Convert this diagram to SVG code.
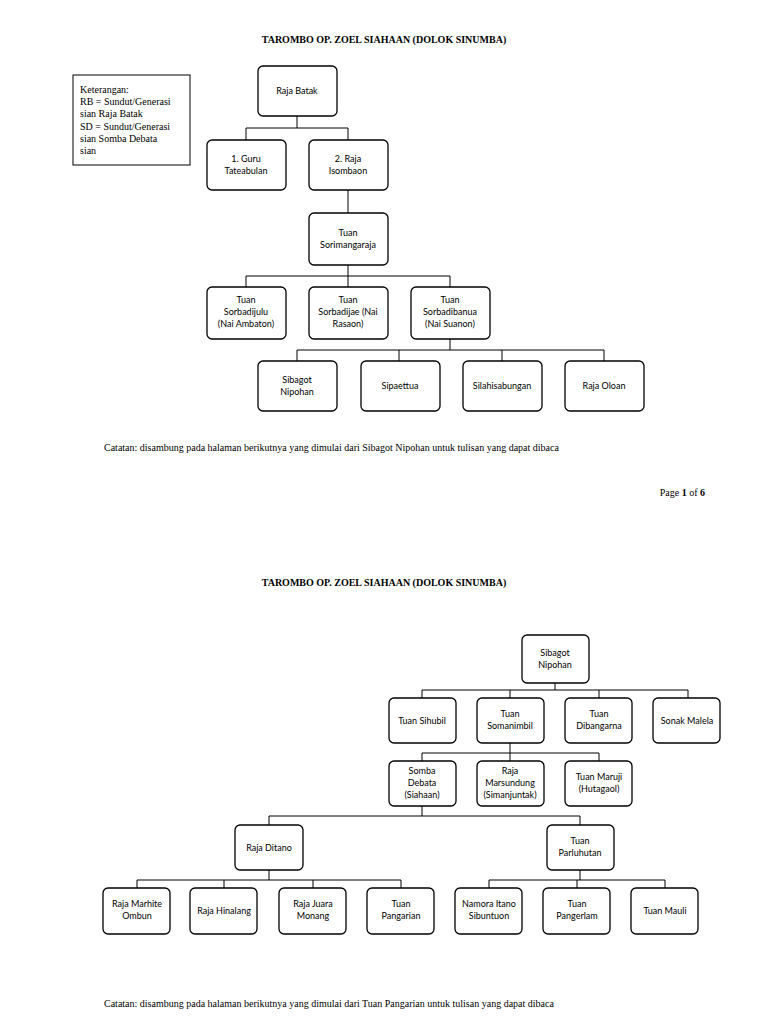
<svg xmlns="http://www.w3.org/2000/svg" width="768" height="1024" viewBox="0 0 768 1024">
<style>
.n rect{fill:#fff;stroke:#000;stroke-width:1.3}
.n text{font-family:Lato,"Open Sans",sans-serif;font-size:9px;text-anchor:middle;fill:#000}
.t{font-family:"Liberation Serif",serif;font-size:10px;fill:#000}
.c{fill:none;stroke:#000;stroke-width:1}
</style>
<rect width="768" height="1024" fill="#fff"/>
<text class="t" x="384" y="43" text-anchor="middle" font-weight="bold">TAROMBO OP. ZOEL SIAHAAN (DOLOK SINUMBA)</text>
<g id="legend">
<rect x="73" y="75" width="117" height="90" fill="#fff" stroke="#000" stroke-width="1"/>
<text class="t" x="80" y="93">Keterangan:</text>
<text class="t" x="80" y="105">RB = Sundut/Generasi</text>
<text class="t" x="80" y="117">sian Raja Batak</text>
<text class="t" x="80" y="130">SD = Sundut/Generasi</text>
<text class="t" x="80" y="142">sian Somba Debata</text>
<text class="t" x="80" y="154">sian</text>
</g>
<g id="connectors" class="c">
<path d="M297 116V128M246 140V128H348V140M348 190V213M348 265V276M246 287V276H450V287M348 276V287M450 339V350M297 361V350H604V361M399 350V361M502 350V361"/>
<path d="M555 683V690M422 698V690H688V698M510 690V698M599 690V698M510 743V753M422 761V753H599V761M510 753V761M422 806V816M269 825V816H580V825M269 870V880M137 888V880H401V888M224 880V888M313 880V888M580 870V880M489 888V880H665V888M577 880V888"/>
</g>
<g id="raja_batak" class="n"><rect x="258" y="66" width="79" height="50" rx="5"/><text x="297" y="94">Raja Batak</text></g>
<g id="guru" class="n"><rect x="207" y="140" width="79" height="50" rx="5"/><text x="246" y="162">1. Guru</text><text x="246" y="174">Tateabulan</text></g>
<g id="isombaon" class="n"><rect x="309" y="140" width="79" height="50" rx="5"/><text x="348" y="162">2. Raja</text><text x="348" y="174">Isombaon</text></g>
<g id="sorimangaraja" class="n"><rect x="309" y="213" width="79" height="52" rx="5"/><text x="348" y="236">Tuan</text><text x="348" y="248">Sorimangaraja</text></g>
<g id="sorbadijulu" class="n"><rect x="207" y="287" width="79" height="52" rx="5"/><text x="246" y="303">Tuan</text><text x="246" y="315">Sorbadijulu</text><text x="246" y="327">(Nai Ambaton)</text></g>
<g id="sorbadijae" class="n"><rect x="309" y="287" width="79" height="52" rx="5"/><text x="348" y="303">Tuan</text><text x="348" y="315">Sorbadijae (Nai</text><text x="348" y="327">Rasaon)</text></g>
<g id="sorbadibanua" class="n"><rect x="411" y="287" width="79" height="52" rx="5"/><text x="450" y="303">Tuan</text><text x="450" y="315">Sorbadibanua</text><text x="450" y="327">(Nai Suanon)</text></g>
<g id="sibagot1" class="n"><rect x="258" y="361" width="79" height="50" rx="5"/><text x="297" y="383">Sibagot</text><text x="297" y="395">Nipohan</text></g>
<g id="sipaettua" class="n"><rect x="361" y="361" width="79" height="50" rx="5"/><text x="400" y="389">Sipaettua</text></g>
<g id="silahisabungan" class="n"><rect x="463" y="361" width="79" height="50" rx="5"/><text x="502" y="389">Silahisabungan</text></g>
<g id="raja_oloan" class="n"><rect x="565" y="361" width="79" height="50" rx="5"/><text x="604" y="389">Raja Oloan</text></g>
<text class="t" x="104" y="451">Catatan: disambung pada halaman berikutnya yang dimulai dari Sibagot Nipohan untuk tulisan yang dapat dibaca</text>
<text class="t" x="705" y="496" text-anchor="end">Page <tspan font-weight="bold">1</tspan> of <tspan font-weight="bold">6</tspan></text>
<text class="t" x="384" y="586" text-anchor="middle" font-weight="bold">TAROMBO OP. ZOEL SIAHAAN (DOLOK SINUMBA)</text>
<g id="sibagot2" class="n"><rect x="522" y="635" width="67" height="48" rx="5"/><text x="555" y="656">Sibagot</text><text x="555" y="668">Nipohan</text></g>
<g id="sihubil" class="n"><rect x="389" y="698" width="67" height="45" rx="5"/><text x="422" y="724">Tuan Sihubil</text></g>
<g id="somanimbil" class="n"><rect x="477" y="698" width="67" height="45" rx="5"/><text x="510" y="717">Tuan</text><text x="510" y="729">Somanimbil</text></g>
<g id="dibangarna" class="n"><rect x="565" y="698" width="67" height="45" rx="5"/><text x="599" y="717">Tuan</text><text x="599" y="729">Dibangarna</text></g>
<g id="sonak" class="n"><rect x="653" y="698" width="67" height="45" rx="5"/><text x="687" y="724">Sonak Malela</text></g>
<g id="somba" class="n"><rect x="389" y="761" width="67" height="45" rx="5"/><text x="422" y="774">Somba</text><text x="422" y="786">Debata</text><text x="422" y="798">(Siahaan)</text></g>
<g id="marsundung" class="n"><rect x="477" y="761" width="67" height="45" rx="5"/><text x="510" y="774">Raja</text><text x="510" y="786">Marsundung</text><text x="510" y="798">(Simanjuntak)</text></g>
<g id="maruji" class="n"><rect x="565" y="761" width="67" height="45" rx="5"/><text x="599" y="780">Tuan Maruji</text><text x="599" y="792">(Hutagaol)</text></g>
<g id="ditano" class="n"><rect x="235" y="825" width="68" height="45" rx="5"/><text x="269" y="851">Raja Ditano</text></g>
<g id="parluhutan" class="n"><rect x="547" y="825" width="67" height="45" rx="5"/><text x="580" y="844">Tuan</text><text x="580" y="856">Parluhutan</text></g>
<g id="marhite" class="n"><rect x="103" y="888" width="67" height="46" rx="5"/><text x="137" y="907">Raja Marhite</text><text x="137" y="919">Ombun</text></g>
<g id="hinalang" class="n"><rect x="190" y="888" width="67" height="46" rx="5"/><text x="224" y="914">Raja Hinalang</text></g>
<g id="juara" class="n"><rect x="279" y="888" width="67" height="46" rx="5"/><text x="313" y="907">Raja Juara</text><text x="313" y="919">Monang</text></g>
<g id="pangarian" class="n"><rect x="367" y="888" width="67" height="46" rx="5"/><text x="401" y="907">Tuan</text><text x="401" y="919">Pangarian</text></g>
<g id="namora" class="n"><rect x="455" y="888" width="67" height="46" rx="5"/><text x="489" y="907">Namora Itano</text><text x="489" y="919">Sibuntuon</text></g>
<g id="pangerlam" class="n"><rect x="543" y="888" width="67" height="46" rx="5"/><text x="577" y="907">Tuan</text><text x="577" y="919">Pangerlam</text></g>
<g id="mauli" class="n"><rect x="631" y="888" width="67" height="46" rx="5"/><text x="665" y="914">Tuan Mauli</text></g>
<text class="t" x="104" y="1007">Catatan: disambung pada halaman berikutnya yang dimulai dari Tuan Pangarian untuk tulisan yang dapat dibaca</text>
</svg>
